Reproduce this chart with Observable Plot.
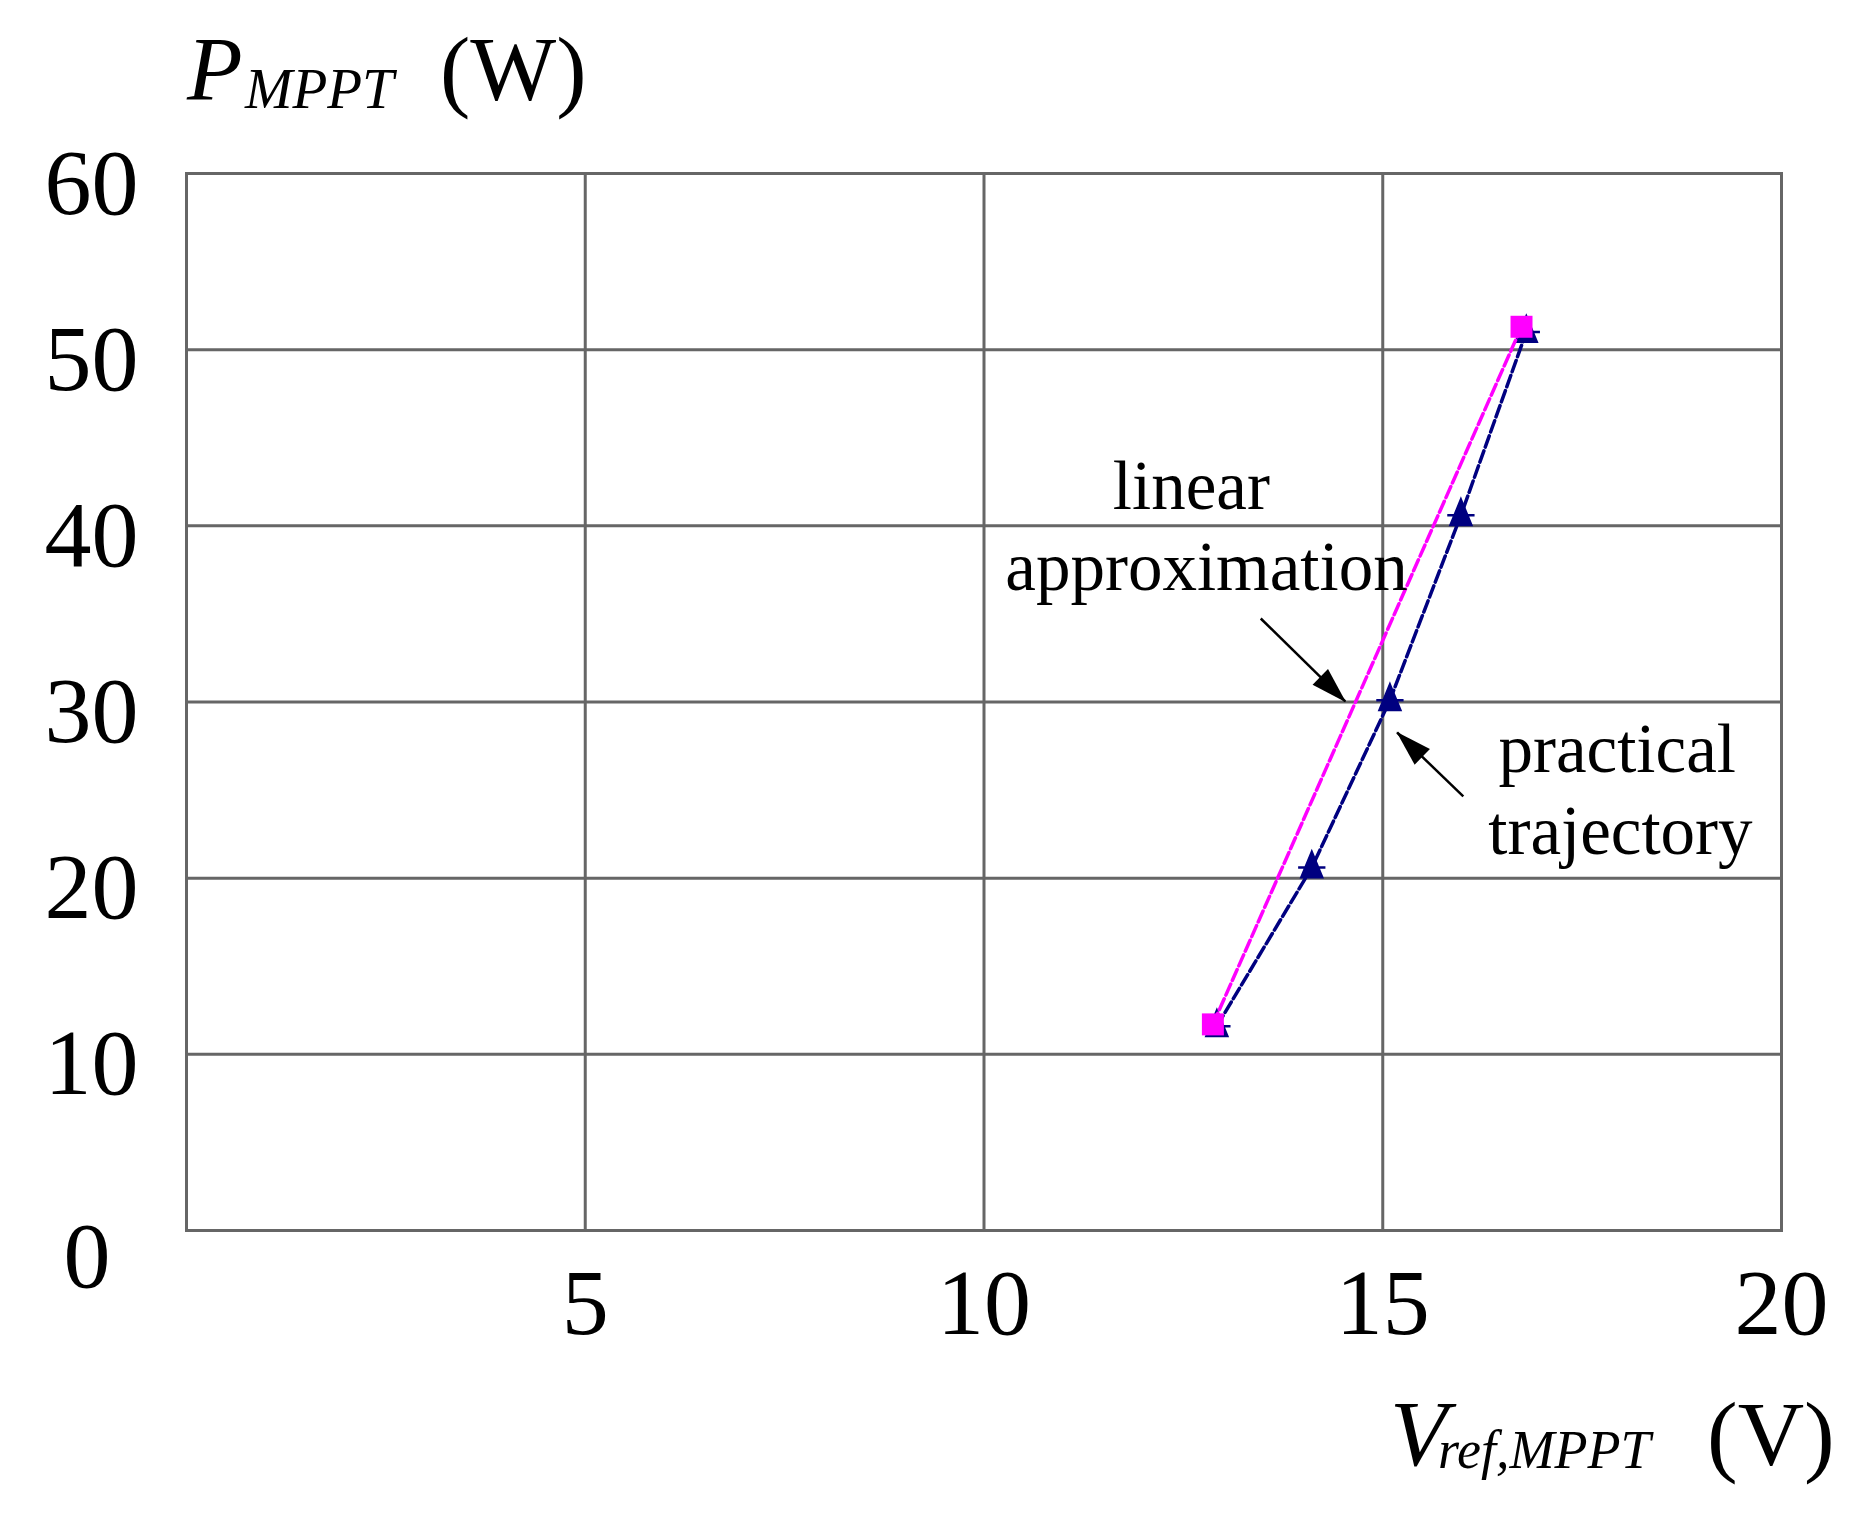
<!DOCTYPE html>
<html>
<head>
<meta charset="utf-8">
<script src="https://cdn.jsdelivr.net/npm/d3@7"></script>
<script src="https://cdn.jsdelivr.net/npm/@observablehq/plot@0.6"></script>
<style>
  html, body { margin: 0; padding: 0; background: #fff; overflow: hidden; }
  #chart svg { display: block; }
</style>
</head>
<body>
<div id="chart"></div>
<script>
// ---- data ----
const xTicks = [5, 10, 15, 20];
const xGrid = [5, 10, 15];
const yTicks = [10, 20, 30, 40, 50, 60];
const yTickZero = [0];
const yGrid = [10, 20, 30, 40, 50];

const linearV = [12.87, 16.74];
const linearP = [11.7, 51.3];

const practicalV = [12.92, 14.11, 15.09, 15.98, 16.80];
const practicalP = [11.6, 20.6, 30.1, 40.6, 51.0];

const labelText = ["linear", "approximation", "practical", "trajectory"];
const labelV = [12.60, 12.79, 17.94, 17.98];
const labelP = [40.93, 36.33, 26.0, 21.4];

const arrowFromV = [13.47, 16.01];
const arrowFromP = [34.74, 24.64];
const arrowToV = [14.53, 15.18];
const arrowToP = [30.03, 28.27];

// ---- tables ----
const linearData = linearV.map((v, i) => ({v, p: linearP[i]}));
const practicalData = practicalV.map((v, i) => ({v, p: practicalP[i]}));
const labelData = labelText.map((t, i) => ({t, v: labelV[i], p: labelP[i]}));
const arrowData = arrowFromV.map((v, i) => ({x1: v, y1: arrowFromP[i], x2: arrowToV[i], y2: arrowToP[i]}));

const FONT = "'Liberation Serif', 'Times New Roman', Times, serif";
const GRID = "#666666";

const starSymbol = {
  draw(ctx, size) {
    const r = Math.sqrt(size / Math.PI);
    ctx.moveTo(0, -1.2 * r);
    ctx.lineTo(0.8 * r, 0.75 * r);
    ctx.lineTo(-0.8 * r, 0.75 * r);
    ctx.closePath();
    ctx.moveTo(-1.05 * r, 0);
    ctx.lineTo(1.05 * r, 0);
  }
};

const plot = Plot.plot({
  width: 1850,
  height: 1530,
  marginLeft: 186,
  marginRight: 69,
  marginTop: 173,
  marginBottom: 300,
  style: {fontFamily: FONT, background: "white", color: "black"},
  x: {domain: [0, 20]},
  y: {domain: [0, 60]},
  marks: [
    Plot.gridX(xGrid, {stroke: GRID, strokeOpacity: 1, strokeWidth: 3}),
    Plot.gridY(yGrid, {stroke: GRID, strokeOpacity: 1, strokeWidth: 3}),
    Plot.frame({stroke: GRID, strokeWidth: 3}),
    Plot.axisX(xTicks, {tickSize: 0, tickPadding: 37, fontSize: 94, fill: "black", label: null}),
    Plot.axisY(yTicks, {tickSize: 0, tickPadding: 48, dy: 10, fontSize: 94, fill: "black", label: null}),
    Plot.axisY(yTickZero, {tickSize: 0, tickPadding: 76, dy: 26, fontSize: 94, fill: "black", label: null}),
    Plot.line(practicalData, {x: "v", y: "p", stroke: "#000080", strokeWidth: 3.5, strokeDasharray: "12,4"}),
    Plot.dot(practicalData, {x: "v", y: "p", symbol: starSymbol, r: 13, fill: "#000080", stroke: "#000080", strokeWidth: 2.5}),
    Plot.line(linearData, {x: "v", y: "p", stroke: "#ff00ff", strokeWidth: 3.5, strokeDasharray: "12,4"}),
    Plot.dot(linearData, {x: "v", y: "p", symbol: "square", r: 12.4, fill: "#ff00ff", stroke: "none"}),
    Plot.link(arrowData, {x1: "x1", y1: "y1", x2: "x2", y2: "y2", stroke: "black", strokeWidth: 2.5}),
    Plot.text(labelData, {x: "v", y: "p", text: "t", fontSize: 69, lineAnchor: "bottom", textAnchor: "middle", fill: "black"})
  ]
});

const svg = d3.select(plot);
const defs = svg.insert("defs", ":first-child");
defs.append("marker")
  .attr("id", "arrowhead")
  .attr("markerUnits", "userSpaceOnUse")
  .attr("viewBox", "-36 -12 38 24")
  .attr("refX", 0).attr("refY", 0)
  .attr("markerWidth", 38).attr("markerHeight", 24)
  .attr("orient", "auto")
  .append("path")
  .attr("d", "M-35,-11L1,0L-35,11Z")
  .attr("fill", "black");
svg.selectAll('g[aria-label="link"] path').attr("marker-end", "url(#arrowhead)");

// axis titles with subscripts
const yTitle = svg.append("text").attr("font-family", FONT).attr("fill", "black").attr("text-anchor", "start");
yTitle.append("tspan").attr("x", 187).attr("y", 100).attr("font-size", 91).attr("font-style", "italic").text("P");
yTitle.append("tspan").attr("x", 245).attr("y", 108).attr("font-size", 57).attr("font-style", "italic").text("MPPT");
yTitle.append("tspan").attr("x", 440).attr("y", 100).attr("font-size", 91).text("(W)");

const xTitle = svg.append("text").attr("font-family", FONT).attr("fill", "black").attr("text-anchor", "start");
xTitle.append("tspan").attr("x", 1390).attr("y", 1465).attr("font-size", 94).attr("font-style", "italic").text("V");
xTitle.append("tspan").attr("x", 1438).attr("y", 1468).attr("font-size", 54).attr("font-style", "italic").text("ref,MPPT");
xTitle.append("tspan").attr("x", 1707).attr("y", 1465).attr("font-size", 92).text("(V)");

document.getElementById("chart").appendChild(plot);
</script>
</body>
</html>
